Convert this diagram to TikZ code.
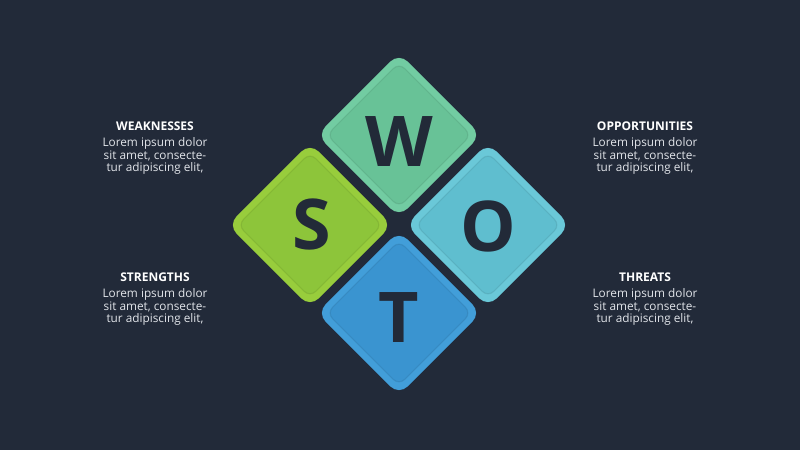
\documentclass[tikz,border=0pt]{standalone}
\usepackage{fontspec}
\setmainfont{Open Sans}
\definecolor{bg}{HTML}{222A39}
\definecolor{letter}{HTML}{222A38}
\definecolor{wout}{HTML}{72CCA2}
\definecolor{win}{HTML}{68C297}
\definecolor{sout}{HTML}{98CD3C}
\definecolor{sin}{HTML}{8DC53A}
\definecolor{oout}{HTML}{6AC8D8}
\definecolor{oin}{HTML}{5FBECF}
\definecolor{tout}{HTML}{429ED9}
\definecolor{tin}{HTML}{3A94D0}
\definecolor{bodytxt}{HTML}{E2E5EA}
\begin{document}
\begin{tikzpicture}[x=1pt,y=1pt,
  outerbox/.style={rectangle, rotate=45, minimum size=116pt, rounded corners=12pt, inner sep=0pt, fill=#1},
  innerbox/.style={rectangle, rotate=45, minimum size=102pt, rounded corners=8pt, inner sep=0pt, fill=#1, draw=black!50!#1, draw opacity=0.15, line width=1.2pt},
  bigletter/.style={text=letter, font=\bfseries\fontsize{70}{70}\selectfont, inner sep=0pt},
  heading/.style={text=white, font=\bfseries\fontsize{12}{13}\selectfont, inner sep=0pt},
  bodytext/.style={text=bodytxt, font=\fontsize{11.8}{12.5}\selectfont, align=center, inner sep=0pt}]
\fill[bg] (0,0) rectangle (800,450);
\useasboundingbox (0,0) rectangle (800,450);
% diamonds
\node[outerbox=wout] (wbox) at (399,315) {};
\node[innerbox=win] (wfill) at (wbox.center) {};
\node[outerbox=sout] (sbox) at (310,225) {};
\node[innerbox=sin] (sfill) at (sbox.center) {};
\node[outerbox=oout] (obox) at (488,225) {};
\node[innerbox=oin] (ofill) at (obox.center) {};
\node[outerbox=tout] (tbox) at (399,137) {};
\node[innerbox=tin] (tfill) at (tbox.center) {};
% letters
\node[bigletter] (wl) at (399,308) {W};
\node[bigletter] (sl) at (312,226) {S};
\node[bigletter] (ol) at (488,224) {O};
\node[bigletter] (tl) at (399,132) {T};
% texts
\node[heading] (wh) at (155,324) {WEAKNESSES};
\node[bodytext] (wt) at (155,294) {Lorem ipsum dolor\\sit amet, consecte-\\tur adipiscing elit,};
\node[heading] (oh) at (645,324) {OPPORTUNITIES};
\node[bodytext] (ot) at (645,294) {Lorem ipsum dolor\\sit amet, consecte-\\tur adipiscing elit,};
\node[heading] (sh) at (155,173) {STRENGTHS};
\node[bodytext] (st) at (155,143) {Lorem ipsum dolor\\sit amet, consecte-\\tur adipiscing elit,};
\node[heading] (th) at (645,173) {THREATS};
\node[bodytext] (tt) at (645,143) {Lorem ipsum dolor\\sit amet, consecte-\\tur adipiscing elit,};
\end{tikzpicture}
\end{document}
